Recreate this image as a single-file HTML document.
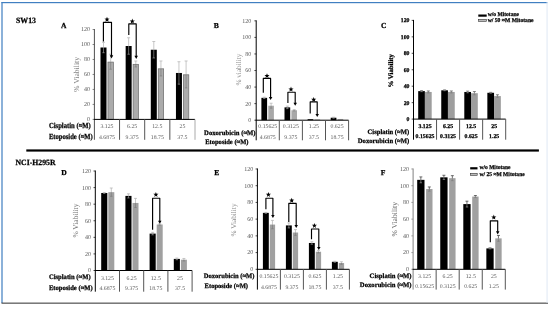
<!DOCTYPE html>
<html><head><meta charset="utf-8"><title>Figure</title>
<style>html,body{margin:0;padding:0;background:#fff;overflow:hidden}svg{display:block}text{font-family:"Liberation Serif",serif}text[font-weight=bold]{stroke:#000;stroke-width:.25px}</style>
</head><body>
<svg width="550" height="309" viewBox="0 0 550 309" text-rendering="geometricPrecision">
<defs><filter id="b" x="-5%" y="-5%" width="110%" height="110%"><feGaussianBlur stdDeviation="0.45"/></filter></defs><g filter="url(#b)">
<rect x="0" y="0" width="550" height="309" fill="#fff"/>
<rect x="100.5" y="47.5" width="6" height="71.9" fill="#000"/>
<rect x="107.95" y="62.08" width="5.4" height="57.32" fill="#ababab" stroke="#6a6a6a" stroke-width="0.7"/>
<path d="M103.5 47.5 V42.25 M102 42.25 H105" fill="none" stroke="#b0b0b0" stroke-width="0.7"/>
<path d="M103.5 47.5 V52.74 M102.3 52.74 H104.7" fill="none" stroke="#aaa" stroke-width="0.6"/>
<path d="M110.65 61.73 V54.24 M109.15 54.24 H112.15" fill="none" stroke="#b0b0b0" stroke-width="0.7"/>
<path d="M110.65 61.73 V69.22 M109.45 69.22 H111.85" fill="none" stroke="#777" stroke-width="0.6"/>
<rect x="125.65" y="46" width="6" height="73.4" fill="#000"/>
<rect x="133.1" y="64.32" width="5.4" height="55.08" fill="#ababab" stroke="#6a6a6a" stroke-width="0.7"/>
<path d="M128.65 46 V37.76 M127.15 37.76 H130.15" fill="none" stroke="#b0b0b0" stroke-width="0.7"/>
<path d="M128.65 46 V54.24 M127.45 54.24 H129.85" fill="none" stroke="#aaa" stroke-width="0.6"/>
<path d="M135.8 63.97 V60.98 M134.3 60.98 H137.3" fill="none" stroke="#b0b0b0" stroke-width="0.7"/>
<path d="M135.8 63.97 V66.97 M134.6 66.97 H137" fill="none" stroke="#777" stroke-width="0.6"/>
<rect x="150.8" y="49.74" width="6" height="69.66" fill="#000"/>
<rect x="158.25" y="68.82" width="5.4" height="50.58" fill="#ababab" stroke="#6a6a6a" stroke-width="0.7"/>
<path d="M153.8 49.74 V41.5 M152.3 41.5 H155.3" fill="none" stroke="#b0b0b0" stroke-width="0.7"/>
<path d="M153.8 49.74 V57.98 M152.6 57.98 H155" fill="none" stroke="#aaa" stroke-width="0.6"/>
<path d="M160.95 68.47 V60.98 M159.45 60.98 H162.45" fill="none" stroke="#b0b0b0" stroke-width="0.7"/>
<path d="M160.95 68.47 V75.96 M159.75 75.96 H162.15" fill="none" stroke="#777" stroke-width="0.6"/>
<rect x="175.95" y="72.96" width="6" height="46.44" fill="#000"/>
<rect x="183.4" y="74.81" width="5.4" height="44.59" fill="#ababab" stroke="#6a6a6a" stroke-width="0.7"/>
<path d="M178.95 72.96 V61.73 M177.45 61.73 H180.45" fill="none" stroke="#b0b0b0" stroke-width="0.7"/>
<path d="M178.95 72.96 V84.2 M177.75 84.2 H180.15" fill="none" stroke="#aaa" stroke-width="0.6"/>
<path d="M186.1 74.46 V60.98 M184.6 60.98 H187.6" fill="none" stroke="#b0b0b0" stroke-width="0.7"/>
<path d="M186.1 74.46 V87.94 M184.9 87.94 H187.3" fill="none" stroke="#777" stroke-width="0.6"/>
<path d="M94.4 29.02 V139.8" stroke="#505050" stroke-width="1" fill="none"/>
<path d="M92.6 119.4 H94.4" stroke="#505050" stroke-width="0.7" fill="none"/>
<text x="89.9" y="121.3" text-anchor="end" font-size="6" fill="#585858">0</text>
<path d="M92.6 104.42 H94.4" stroke="#505050" stroke-width="0.7" fill="none"/>
<text x="89.9" y="106.32" text-anchor="end" font-size="6" fill="#585858">20</text>
<path d="M92.6 89.44 H94.4" stroke="#505050" stroke-width="0.7" fill="none"/>
<text x="89.9" y="91.34" text-anchor="end" font-size="6" fill="#585858">40</text>
<path d="M92.6 74.46 H94.4" stroke="#505050" stroke-width="0.7" fill="none"/>
<text x="89.9" y="76.36" text-anchor="end" font-size="6" fill="#585858">60</text>
<path d="M92.6 59.48 H94.4" stroke="#505050" stroke-width="0.7" fill="none"/>
<text x="89.9" y="61.38" text-anchor="end" font-size="6" fill="#585858">80</text>
<path d="M92.6 44.5 H94.4" stroke="#505050" stroke-width="0.7" fill="none"/>
<text x="89.9" y="46.4" text-anchor="end" font-size="6" fill="#585858">100</text>
<path d="M92.6 29.52 H94.4" stroke="#505050" stroke-width="0.7" fill="none"/>
<text x="89.9" y="31.42" text-anchor="end" font-size="6" fill="#585858">120</text>
<path d="M93.9 119.4 H195" stroke="#000" stroke-width="1" fill="none"/>
<path d="M119.55 119.4 V139.8" stroke="#555" stroke-width="1" fill="none"/>
<path d="M144.7 119.4 V139.8" stroke="#555" stroke-width="1" fill="none"/>
<path d="M169.85 119.4 V139.8" stroke="#555" stroke-width="1" fill="none"/>
<path d="M195 119.4 V139.8" stroke="#aaa" stroke-width="1" fill="none"/>
<text x="106.98" y="128.1" text-anchor="middle" font-size="5.8" fill="#5c5c5c">3.125</text>
<text x="132.12" y="128.1" text-anchor="middle" font-size="5.8" fill="#5c5c5c">6.25</text>
<text x="157.28" y="128.1" text-anchor="middle" font-size="5.8" fill="#5c5c5c">12.5</text>
<text x="182.43" y="128.1" text-anchor="middle" font-size="5.8" fill="#5c5c5c">25</text>
<text x="106.98" y="138.5" text-anchor="middle" font-size="5.8" fill="#5c5c5c">4.6875</text>
<text x="132.12" y="138.5" text-anchor="middle" font-size="5.8" fill="#5c5c5c">9.375</text>
<text x="157.28" y="138.5" text-anchor="middle" font-size="5.8" fill="#5c5c5c">18.75</text>
<text x="182.43" y="138.5" text-anchor="middle" font-size="5.8" fill="#5c5c5c">37.5</text>
<text x="90.8" y="128.1" text-anchor="end" font-size="7.7" font-weight="bold" fill="#000" textLength="41.9" lengthAdjust="spacingAndGlyphs">Cisplatin (≈M)</text>
<text x="92.7" y="139.1" text-anchor="end" font-size="7.7" font-weight="bold" fill="#000" textLength="43.8" lengthAdjust="spacingAndGlyphs">Etoposide (≈M)</text>
<text transform="translate(78.7 74.5) rotate(-90)" text-anchor="middle" font-size="7.6" fill="#808080" textLength="35" lengthAdjust="spacingAndGlyphs">% Viability</text>
<text x="63.7" y="27.8" text-anchor="middle" font-size="7.6" font-weight="bold" fill="#000">A</text>
<path d="M103.4 41.5 V22.3 H111.5 V56.4" fill="none" stroke="#000" stroke-width="1.15" stroke-linejoin="round"/>
<polygon points="109.75,55.3 113.25,55.3 111.5,58.4" fill="#000"/>
<polygon points="107,16.8 107.67,18.58 109.57,18.67 108.08,19.85 108.59,21.68 107,20.63 105.41,21.68 105.92,19.85 104.43,18.67 106.33,18.58" fill="#000"/>
<path d="M128.8 35 V23.9 H136.2 V56.9" fill="none" stroke="#000" stroke-width="1.15" stroke-linejoin="round"/>
<polygon points="134.45,55.8 137.95,55.8 136.2,58.9" fill="#000"/>
<polygon points="132.3,18.6 132.97,20.38 134.87,20.47 133.38,21.65 133.89,23.48 132.3,22.43 130.71,23.48 131.22,21.65 129.73,20.47 131.63,20.38" fill="#000"/>
<rect x="261.4" y="97.84" width="5.7" height="22.36" fill="#000"/>
<rect x="268.3" y="105.71" width="5.6" height="14.49" fill="#a8a8a8"/>
<path d="M264.25 97.84 V97.18 M262.75 97.18 H265.75" fill="none" stroke="#b0b0b0" stroke-width="0.7"/>
<path d="M264.25 97.84 V98.51 M263.05 98.51 H265.45" fill="none" stroke="#aaa" stroke-width="0.6"/>
<path d="M271.1 105.71 V103.23 M269.6 103.23 H272.6" fill="none" stroke="#b0b0b0" stroke-width="0.7"/>
<path d="M271.1 105.71 V108.19 M269.9 108.19 H272.3" fill="none" stroke="#777" stroke-width="0.6"/>
<rect x="284.5" y="107.37" width="5.7" height="12.83" fill="#000"/>
<rect x="291.4" y="110.26" width="5.6" height="9.94" fill="#a8a8a8"/>
<path d="M287.35 107.37 V106.12 M285.85 106.12 H288.85" fill="none" stroke="#b0b0b0" stroke-width="0.7"/>
<path d="M287.35 107.37 V108.61 M286.15 108.61 H288.55" fill="none" stroke="#aaa" stroke-width="0.6"/>
<path d="M294.2 110.26 V109.6 M292.7 109.6 H295.7" fill="none" stroke="#b0b0b0" stroke-width="0.7"/>
<path d="M294.2 110.26 V110.93 M293 110.93 H295.4" fill="none" stroke="#777" stroke-width="0.6"/>
<rect x="307.6" y="119.21" width="5.7" height="0.99" fill="#000"/>
<rect x="314.5" y="119.37" width="5.6" height="0.83" fill="#a8a8a8"/>
<rect x="330.7" y="117.72" width="5.7" height="2.48" fill="#000"/>
<rect x="337.6" y="118.96" width="5.6" height="1.24" fill="#a8a8a8"/>
<path d="M333.55 117.72 V117.22 M332.05 117.22 H335.05" fill="none" stroke="#b0b0b0" stroke-width="0.7"/>
<path d="M333.55 117.72 V118.21 M332.35 118.21 H334.75" fill="none" stroke="#aaa" stroke-width="0.6"/>
<path d="M256.2 20.34 V140.3" stroke="#000" stroke-width="1" fill="none"/>
<path d="M254.4 120.2 H256.2" stroke="#000" stroke-width="0.7" fill="none"/>
<text x="251.3" y="122.1" text-anchor="end" font-size="6" fill="#585858">0</text>
<path d="M254.4 103.64 H256.2" stroke="#000" stroke-width="0.7" fill="none"/>
<text x="251.3" y="105.54" text-anchor="end" font-size="6" fill="#585858">20</text>
<path d="M254.4 87.08 H256.2" stroke="#000" stroke-width="0.7" fill="none"/>
<text x="251.3" y="88.98" text-anchor="end" font-size="6" fill="#585858">40</text>
<path d="M254.4 70.52 H256.2" stroke="#000" stroke-width="0.7" fill="none"/>
<text x="251.3" y="72.42" text-anchor="end" font-size="6" fill="#585858">60</text>
<path d="M254.4 53.96 H256.2" stroke="#000" stroke-width="0.7" fill="none"/>
<text x="251.3" y="55.86" text-anchor="end" font-size="6" fill="#585858">80</text>
<path d="M254.4 37.4 H256.2" stroke="#000" stroke-width="0.7" fill="none"/>
<text x="251.3" y="39.3" text-anchor="end" font-size="6" fill="#585858">100</text>
<path d="M254.4 20.84 H256.2" stroke="#000" stroke-width="0.7" fill="none"/>
<text x="251.3" y="22.74" text-anchor="end" font-size="6" fill="#585858">120</text>
<path d="M255.7 120.2 H348.6" stroke="#000" stroke-width="1" fill="none"/>
<path d="M279.3 120.2 V140.3" stroke="#555" stroke-width="1" fill="none"/>
<path d="M302.4 120.2 V140.3" stroke="#555" stroke-width="1" fill="none"/>
<path d="M325.5 120.2 V140.3" stroke="#555" stroke-width="1" fill="none"/>
<path d="M348.6 120.2 V140.3" stroke="#555" stroke-width="1" fill="none"/>
<text x="267.75" y="127.9" text-anchor="middle" font-size="5.8" fill="#5c5c5c">0.15625</text>
<text x="290.85" y="127.9" text-anchor="middle" font-size="5.8" fill="#5c5c5c">0.3125</text>
<text x="313.95" y="127.9" text-anchor="middle" font-size="5.8" fill="#5c5c5c">1.25</text>
<text x="337.05" y="127.9" text-anchor="middle" font-size="5.8" fill="#5c5c5c">0.625</text>
<text x="267.75" y="139.2" text-anchor="middle" font-size="5.8" fill="#5c5c5c">4.6875</text>
<text x="290.85" y="139.2" text-anchor="middle" font-size="5.8" fill="#5c5c5c">9.375</text>
<text x="313.95" y="139.2" text-anchor="middle" font-size="5.8" fill="#5c5c5c">37.5</text>
<text x="337.05" y="139.2" text-anchor="middle" font-size="5.8" fill="#5c5c5c">18.75</text>
<text x="255.6" y="135" text-anchor="end" font-size="6.8" font-weight="bold" fill="#000" textLength="51.5" lengthAdjust="spacingAndGlyphs">Doxorubicin (≈M)</text>
<text x="248.5" y="144.3" text-anchor="end" font-size="6.8" font-weight="bold" fill="#000" textLength="43.3" lengthAdjust="spacingAndGlyphs">Etoposide (≈M)</text>
<text transform="translate(240.6 69.6) rotate(-90)" text-anchor="middle" font-size="7.2" fill="#8c8c8c" textLength="32" lengthAdjust="spacingAndGlyphs">% viability</text>
<text x="216.3" y="27.7" text-anchor="middle" font-size="7.6" font-weight="bold" fill="#000">B</text>
<path d="M263.3 92.7 V78.4 H270.6 V98" fill="none" stroke="#000" stroke-width="1.15" stroke-linejoin="round"/>
<polygon points="268.85,96.9 272.35,96.9 270.6,100" fill="#000"/>
<polygon points="267,73.2 267.67,74.98 269.57,75.07 268.08,76.25 268.59,78.08 267,77.03 265.41,78.08 265.92,76.25 264.43,75.07 266.33,74.98" fill="#000"/>
<path d="M287.9 102.9 V92.2 H295.2 V103.8" fill="none" stroke="#000" stroke-width="1.15" stroke-linejoin="round"/>
<polygon points="293.45,102.7 296.95,102.7 295.2,105.8" fill="#000"/>
<polygon points="291,86.6 291.67,88.38 293.57,88.47 292.08,89.65 292.59,91.48 291,90.43 289.41,91.48 289.92,89.65 288.43,88.47 290.33,88.38" fill="#000"/>
<path d="M310.2 113.5 V101.9 H317.2 V115" fill="none" stroke="#000" stroke-width="1.15" stroke-linejoin="round"/>
<polygon points="315.45,113.9 318.95,113.9 317.2,117" fill="#000"/>
<polygon points="313.7,96.9 314.37,98.68 316.27,98.77 314.78,99.95 315.29,101.78 313.7,100.73 312.11,101.78 312.62,99.95 311.13,98.77 313.03,98.68" fill="#000"/>
<rect x="418.2" y="91.13" width="6.7" height="27.97" fill="#000"/>
<rect x="424.9" y="91.96" width="6.8" height="27.14" fill="#9e9e9e"/>
<path d="M421.55 91.13 V90.64 M420.05 90.64 H423.05" fill="none" stroke="#555" stroke-width="0.7"/>
<path d="M421.55 91.13 V91.63 M420.35 91.63 H422.75" fill="none" stroke="#aaa" stroke-width="0.6"/>
<path d="M428.3 91.96 V90.97 M426.8 90.97 H429.8" fill="none" stroke="#555" stroke-width="0.7"/>
<path d="M428.3 91.96 V92.94 M427.1 92.94 H429.5" fill="none" stroke="#777" stroke-width="0.6"/>
<rect x="441.25" y="90.31" width="6.7" height="28.79" fill="#000"/>
<rect x="447.95" y="91.96" width="6.8" height="27.14" fill="#9e9e9e"/>
<path d="M444.6 90.31 V89.9 M443.1 89.9 H446.1" fill="none" stroke="#555" stroke-width="0.7"/>
<path d="M444.6 90.31 V90.72 M443.4 90.72 H445.8" fill="none" stroke="#aaa" stroke-width="0.6"/>
<path d="M451.35 91.96 V90.97 M449.85 90.97 H452.85" fill="none" stroke="#555" stroke-width="0.7"/>
<path d="M451.35 91.96 V92.94 M450.15 92.94 H452.55" fill="none" stroke="#777" stroke-width="0.6"/>
<rect x="464.3" y="91.96" width="6.7" height="27.14" fill="#000"/>
<rect x="471" y="93.19" width="6.8" height="25.91" fill="#9e9e9e"/>
<path d="M467.65 91.96 V91.13 M466.15 91.13 H469.15" fill="none" stroke="#555" stroke-width="0.7"/>
<path d="M467.65 91.96 V92.78 M466.45 92.78 H468.85" fill="none" stroke="#aaa" stroke-width="0.6"/>
<path d="M474.4 93.19 V91.55 M472.9 91.55 H475.9" fill="none" stroke="#555" stroke-width="0.7"/>
<path d="M474.4 93.19 V94.84 M473.2 94.84 H475.6" fill="none" stroke="#777" stroke-width="0.6"/>
<rect x="487.35" y="92.78" width="6.7" height="26.32" fill="#000"/>
<rect x="494.05" y="96.07" width="6.8" height="23.03" fill="#9e9e9e"/>
<path d="M490.7 92.78 V92.37 M489.2 92.37 H492.2" fill="none" stroke="#555" stroke-width="0.7"/>
<path d="M490.7 92.78 V93.19 M489.5 93.19 H491.9" fill="none" stroke="#aaa" stroke-width="0.6"/>
<path d="M497.45 96.07 V94.75 M495.95 94.75 H498.95" fill="none" stroke="#555" stroke-width="0.7"/>
<path d="M497.45 96.07 V97.39 M496.25 97.39 H498.65" fill="none" stroke="#777" stroke-width="0.6"/>
<path d="M413.5 19.9 V139.7" stroke="#000" stroke-width="1" fill="none"/>
<path d="M411.7 119.1 H413.5" stroke="#000" stroke-width="0.7" fill="none"/>
<text x="409.5" y="121" text-anchor="end" font-size="5.8" fill="#000" font-weight="bold">0</text>
<path d="M411.7 102.65 H413.5" stroke="#000" stroke-width="0.7" fill="none"/>
<text x="409.5" y="104.55" text-anchor="end" font-size="5.8" fill="#000" font-weight="bold">20</text>
<path d="M411.7 86.2 H413.5" stroke="#000" stroke-width="0.7" fill="none"/>
<text x="409.5" y="88.1" text-anchor="end" font-size="5.8" fill="#000" font-weight="bold">40</text>
<path d="M411.7 69.75 H413.5" stroke="#000" stroke-width="0.7" fill="none"/>
<text x="409.5" y="71.65" text-anchor="end" font-size="5.8" fill="#000" font-weight="bold">60</text>
<path d="M411.7 53.3 H413.5" stroke="#000" stroke-width="0.7" fill="none"/>
<text x="409.5" y="55.2" text-anchor="end" font-size="5.8" fill="#000" font-weight="bold">80</text>
<path d="M411.7 36.85 H413.5" stroke="#000" stroke-width="0.7" fill="none"/>
<text x="409.5" y="38.75" text-anchor="end" font-size="5.8" fill="#000" font-weight="bold">100</text>
<path d="M411.7 20.4 H413.5" stroke="#000" stroke-width="0.7" fill="none"/>
<text x="409.5" y="22.3" text-anchor="end" font-size="5.8" fill="#000" font-weight="bold">120</text>
<path d="M413 119.1 H505.7" stroke="#000" stroke-width="1" fill="none"/>
<path d="M436.55 119.1 V139.7" stroke="#555" stroke-width="1" fill="none"/>
<path d="M459.6 119.1 V139.7" stroke="#555" stroke-width="1" fill="none"/>
<path d="M482.65 119.1 V139.7" stroke="#555" stroke-width="1" fill="none"/>
<path d="M505.7 119.1 V139.7" stroke="#555" stroke-width="1" fill="none"/>
<text x="425.02" y="127.7" text-anchor="middle" font-size="5.8" fill="#000" font-weight="bold">3.125</text>
<text x="448.07" y="127.7" text-anchor="middle" font-size="5.8" fill="#000" font-weight="bold">6.25</text>
<text x="471.12" y="127.7" text-anchor="middle" font-size="5.8" fill="#000" font-weight="bold">12.5</text>
<text x="494.18" y="127.7" text-anchor="middle" font-size="5.8" fill="#000" font-weight="bold">25</text>
<text x="425.02" y="138.2" text-anchor="middle" font-size="5.8" fill="#000" font-weight="bold">0.15625</text>
<text x="448.07" y="138.2" text-anchor="middle" font-size="5.8" fill="#000" font-weight="bold">0.3125</text>
<text x="471.12" y="138.2" text-anchor="middle" font-size="5.8" fill="#000" font-weight="bold">0.625</text>
<text x="494.18" y="138.2" text-anchor="middle" font-size="5.8" fill="#000" font-weight="bold">1.25</text>
<text x="409.1" y="133.7" text-anchor="end" font-size="6.8" font-weight="bold" fill="#000" textLength="41.5" lengthAdjust="spacingAndGlyphs">Cisplatin (≈M)</text>
<text x="409.1" y="142.8" text-anchor="end" font-size="6.8" font-weight="bold" fill="#000" textLength="51.3" lengthAdjust="spacingAndGlyphs">Doxorubicin (≈M)</text>
<text transform="translate(393.3 70.8) rotate(-90)" text-anchor="middle" font-size="6.8" fill="#000" font-weight="bold" textLength="33.6" lengthAdjust="spacingAndGlyphs">% Viability</text>
<text x="383.7" y="27.9" text-anchor="middle" font-size="7.6" font-weight="bold" fill="#000">C</text>
<rect x="101.2" y="192.99" width="6.1" height="77.51" fill="#000"/>
<rect x="108.3" y="192.16" width="6" height="78.34" fill="#a0a0a0"/>
<path d="M104.25 192.99 V192.49 M102.75 192.49 H105.75" fill="none" stroke="#b0b0b0" stroke-width="0.7"/>
<path d="M104.25 192.99 V193.49 M103.05 193.49 H105.45" fill="none" stroke="#aaa" stroke-width="0.6"/>
<path d="M111.3 192.16 V188.01 M109.8 188.01 H112.8" fill="none" stroke="#b0b0b0" stroke-width="0.7"/>
<path d="M111.3 192.16 V196.3 M110.1 196.3 H112.5" fill="none" stroke="#777" stroke-width="0.6"/>
<rect x="125.4" y="195.89" width="6.1" height="74.61" fill="#000"/>
<rect x="132.5" y="202.94" width="6" height="67.56" fill="#a0a0a0"/>
<path d="M128.45 195.89 V193.82 M126.95 193.82 H129.95" fill="none" stroke="#b0b0b0" stroke-width="0.7"/>
<path d="M128.45 195.89 V197.96 M127.25 197.96 H129.65" fill="none" stroke="#aaa" stroke-width="0.6"/>
<path d="M135.5 202.94 V198.38 M134 198.38 H137" fill="none" stroke="#b0b0b0" stroke-width="0.7"/>
<path d="M135.5 202.94 V207.5 M134.3 207.5 H136.7" fill="none" stroke="#777" stroke-width="0.6"/>
<rect x="149.6" y="233.61" width="6.1" height="36.89" fill="#000"/>
<rect x="156.7" y="224.49" width="6" height="46.01" fill="#a0a0a0"/>
<path d="M152.65 233.61 V232.37 M151.15 232.37 H154.15" fill="none" stroke="#b0b0b0" stroke-width="0.7"/>
<path d="M152.65 233.61 V234.85 M151.45 234.85 H153.85" fill="none" stroke="#aaa" stroke-width="0.6"/>
<path d="M159.7 224.49 V223.83 M158.2 223.83 H161.2" fill="none" stroke="#b0b0b0" stroke-width="0.7"/>
<path d="M159.7 224.49 V225.15 M158.5 225.15 H160.9" fill="none" stroke="#777" stroke-width="0.6"/>
<rect x="173.8" y="258.89" width="6.1" height="11.61" fill="#000"/>
<rect x="180.9" y="259.72" width="6" height="10.78" fill="#a0a0a0"/>
<path d="M176.85 258.89 V258.06 M175.35 258.06 H178.35" fill="none" stroke="#b0b0b0" stroke-width="0.7"/>
<path d="M176.85 258.89 V259.72 M175.65 259.72 H178.05" fill="none" stroke="#aaa" stroke-width="0.6"/>
<path d="M183.9 259.72 V258.48 M182.4 258.48 H185.4" fill="none" stroke="#b0b0b0" stroke-width="0.7"/>
<path d="M183.9 259.72 V260.97 M182.7 260.97 H185.1" fill="none" stroke="#777" stroke-width="0.6"/>
<path d="M95.3 170.52 V291.7" stroke="#000" stroke-width="1" fill="none"/>
<path d="M93.5 270.5 H95.3" stroke="#000" stroke-width="0.7" fill="none"/>
<text x="91" y="272.4" text-anchor="end" font-size="6" fill="#585858">0</text>
<path d="M93.5 253.92 H95.3" stroke="#000" stroke-width="0.7" fill="none"/>
<text x="91" y="255.82" text-anchor="end" font-size="6" fill="#585858">20</text>
<path d="M93.5 237.34 H95.3" stroke="#000" stroke-width="0.7" fill="none"/>
<text x="91" y="239.24" text-anchor="end" font-size="6" fill="#585858">40</text>
<path d="M93.5 220.76 H95.3" stroke="#000" stroke-width="0.7" fill="none"/>
<text x="91" y="222.66" text-anchor="end" font-size="6" fill="#585858">60</text>
<path d="M93.5 204.18 H95.3" stroke="#000" stroke-width="0.7" fill="none"/>
<text x="91" y="206.08" text-anchor="end" font-size="6" fill="#585858">80</text>
<path d="M93.5 187.6 H95.3" stroke="#000" stroke-width="0.7" fill="none"/>
<text x="91" y="189.5" text-anchor="end" font-size="6" fill="#585858">100</text>
<path d="M93.5 171.02 H95.3" stroke="#000" stroke-width="0.7" fill="none"/>
<text x="91" y="172.92" text-anchor="end" font-size="6" fill="#585858">120</text>
<path d="M94.8 270.5 H192.1" stroke="#000" stroke-width="1" fill="none"/>
<path d="M119.5 270.5 V291.7" stroke="#555" stroke-width="1" fill="none"/>
<path d="M143.7 270.5 V291.7" stroke="#555" stroke-width="1" fill="none"/>
<path d="M167.9 270.5 V291.7" stroke="#555" stroke-width="1" fill="none"/>
<path d="M192.1 270.5 V291.7" stroke="#555" stroke-width="1" fill="none"/>
<text x="107.4" y="279.9" text-anchor="middle" font-size="5.8" fill="#5c5c5c">3.125</text>
<text x="131.6" y="279.9" text-anchor="middle" font-size="5.8" fill="#5c5c5c">6.25</text>
<text x="155.8" y="279.9" text-anchor="middle" font-size="5.8" fill="#5c5c5c">12.5</text>
<text x="180" y="279.9" text-anchor="middle" font-size="5.8" fill="#5c5c5c">25</text>
<text x="107.4" y="290" text-anchor="middle" font-size="5.8" fill="#5c5c5c">4.6875</text>
<text x="131.6" y="290" text-anchor="middle" font-size="5.8" fill="#5c5c5c">9.375</text>
<text x="155.8" y="290" text-anchor="middle" font-size="5.8" fill="#5c5c5c">18.75</text>
<text x="180" y="290" text-anchor="middle" font-size="5.8" fill="#5c5c5c">37.5</text>
<text x="90.6" y="278.9" text-anchor="end" font-size="6.9" font-weight="bold" fill="#000" textLength="41.7" lengthAdjust="spacingAndGlyphs">Cisplatin (≈M)</text>
<text x="92.7" y="289.5" text-anchor="end" font-size="6.9" font-weight="bold" fill="#000" textLength="43.8" lengthAdjust="spacingAndGlyphs">Etoposide (≈M)</text>
<text transform="translate(78 220.6) rotate(-90)" text-anchor="middle" font-size="7.4" fill="#6c6c6c" textLength="34" lengthAdjust="spacingAndGlyphs">% Viability</text>
<text x="64" y="175" text-anchor="middle" font-size="7.6" font-weight="bold" fill="#000">D</text>
<path d="M152.6 229.7 V198.2 H159.8 V221.8" fill="none" stroke="#000" stroke-width="1.15" stroke-linejoin="round"/>
<polygon points="158.05,220.7 161.55,220.7 159.8,223.8" fill="#000"/>
<polygon points="155.9,192 156.57,193.78 158.47,193.87 156.98,195.05 157.49,196.88 155.9,195.83 154.31,196.88 154.82,195.05 153.33,193.87 155.23,193.78" fill="#000"/>
<rect x="262.9" y="212.87" width="5.9" height="56.43" fill="#000"/>
<rect x="269.8" y="224.57" width="5.3" height="44.73" fill="#a0a0a0"/>
<path d="M265.85 212.87 V212.37 M264.35 212.37 H267.35" fill="none" stroke="#b0b0b0" stroke-width="0.7"/>
<path d="M265.85 212.87 V213.37 M264.65 213.37 H267.05" fill="none" stroke="#aaa" stroke-width="0.6"/>
<path d="M272.45 224.57 V220.39 M270.95 220.39 H273.95" fill="none" stroke="#b0b0b0" stroke-width="0.7"/>
<path d="M272.45 224.57 V228.75 M271.25 228.75 H273.65" fill="none" stroke="#777" stroke-width="0.6"/>
<rect x="285.9" y="225.41" width="5.9" height="43.89" fill="#000"/>
<rect x="292.8" y="232.52" width="5.3" height="36.78" fill="#a0a0a0"/>
<path d="M288.85 225.41 V222.9 M287.35 222.9 H290.35" fill="none" stroke="#b0b0b0" stroke-width="0.7"/>
<path d="M288.85 225.41 V227.92 M287.65 227.92 H290.05" fill="none" stroke="#aaa" stroke-width="0.6"/>
<path d="M295.45 232.52 V229.59 M293.95 229.59 H296.95" fill="none" stroke="#b0b0b0" stroke-width="0.7"/>
<path d="M295.45 232.52 V235.44 M294.25 235.44 H296.65" fill="none" stroke="#777" stroke-width="0.6"/>
<rect x="308.9" y="242.97" width="5.9" height="26.33" fill="#000"/>
<rect x="315.8" y="251.74" width="5.3" height="17.56" fill="#a0a0a0"/>
<path d="M311.85 242.97 V241.71 M310.35 241.71 H313.35" fill="none" stroke="#b0b0b0" stroke-width="0.7"/>
<path d="M311.85 242.97 V244.22 M310.65 244.22 H313.05" fill="none" stroke="#aaa" stroke-width="0.6"/>
<path d="M318.45 251.74 V250.49 M316.95 250.49 H319.95" fill="none" stroke="#b0b0b0" stroke-width="0.7"/>
<path d="M318.45 251.74 V253 M317.25 253 H319.65" fill="none" stroke="#777" stroke-width="0.6"/>
<rect x="331.9" y="261.78" width="5.9" height="7.52" fill="#000"/>
<rect x="338.8" y="263.03" width="5.3" height="6.27" fill="#a0a0a0"/>
<path d="M334.85 261.78 V261.27 M333.35 261.27 H336.35" fill="none" stroke="#b0b0b0" stroke-width="0.7"/>
<path d="M334.85 261.78 V262.28 M333.65 262.28 H336.05" fill="none" stroke="#aaa" stroke-width="0.6"/>
<path d="M341.45 263.03 V261.78 M339.95 261.78 H342.95" fill="none" stroke="#b0b0b0" stroke-width="0.7"/>
<path d="M341.45 263.03 V264.28 M340.25 264.28 H342.65" fill="none" stroke="#777" stroke-width="0.6"/>
<path d="M257.4 168.48 V289.6" stroke="#000" stroke-width="1" fill="none"/>
<path d="M255.6 269.3 H257.4" stroke="#000" stroke-width="0.7" fill="none"/>
<text x="253.2" y="271.2" text-anchor="end" font-size="6" fill="#585858">0</text>
<path d="M255.6 252.58 H257.4" stroke="#000" stroke-width="0.7" fill="none"/>
<text x="253.2" y="254.48" text-anchor="end" font-size="6" fill="#585858">20</text>
<path d="M255.6 235.86 H257.4" stroke="#000" stroke-width="0.7" fill="none"/>
<text x="253.2" y="237.76" text-anchor="end" font-size="6" fill="#585858">40</text>
<path d="M255.6 219.14 H257.4" stroke="#000" stroke-width="0.7" fill="none"/>
<text x="253.2" y="221.04" text-anchor="end" font-size="6" fill="#585858">60</text>
<path d="M255.6 202.42 H257.4" stroke="#000" stroke-width="0.7" fill="none"/>
<text x="253.2" y="204.32" text-anchor="end" font-size="6" fill="#585858">80</text>
<path d="M255.6 185.7 H257.4" stroke="#000" stroke-width="0.7" fill="none"/>
<text x="253.2" y="187.6" text-anchor="end" font-size="6" fill="#585858">100</text>
<path d="M255.6 168.98 H257.4" stroke="#000" stroke-width="0.7" fill="none"/>
<text x="253.2" y="170.88" text-anchor="end" font-size="6" fill="#585858">120</text>
<path d="M256.9 269.3 H349.4" stroke="#000" stroke-width="1" fill="none"/>
<path d="M280.4 269.3 V289.6" stroke="#555" stroke-width="1" fill="none"/>
<path d="M303.4 269.3 V289.6" stroke="#555" stroke-width="1" fill="none"/>
<path d="M326.4 269.3 V289.6" stroke="#555" stroke-width="1" fill="none"/>
<path d="M349.4 269.3 V289.6" stroke="#555" stroke-width="1" fill="none"/>
<text x="268.9" y="277.9" text-anchor="middle" font-size="5.8" fill="#5c5c5c">0.15625</text>
<text x="291.9" y="277.9" text-anchor="middle" font-size="5.8" fill="#5c5c5c">0.3125</text>
<text x="314.9" y="277.9" text-anchor="middle" font-size="5.8" fill="#5c5c5c">0.625</text>
<text x="337.9" y="277.9" text-anchor="middle" font-size="5.8" fill="#5c5c5c">1.25</text>
<text x="268.9" y="288.5" text-anchor="middle" font-size="5.8" fill="#5c5c5c">4.6875</text>
<text x="291.9" y="288.5" text-anchor="middle" font-size="5.8" fill="#5c5c5c">9.375</text>
<text x="314.9" y="288.5" text-anchor="middle" font-size="5.8" fill="#5c5c5c">18.75</text>
<text x="337.9" y="288.5" text-anchor="middle" font-size="5.8" fill="#5c5c5c">37.5</text>
<text x="254.5" y="277.7" text-anchor="end" font-size="6.8" font-weight="bold" fill="#000" textLength="50.7" lengthAdjust="spacingAndGlyphs">Doxorubicin (≈M)</text>
<text x="248" y="287.5" text-anchor="end" font-size="6.8" font-weight="bold" fill="#000" textLength="43.4" lengthAdjust="spacingAndGlyphs">Etoposide (≈M)</text>
<text transform="translate(236.2 220) rotate(-90)" text-anchor="middle" font-size="7.2" fill="#888" textLength="33" lengthAdjust="spacingAndGlyphs">% Viability</text>
<text x="216.7" y="174.9" text-anchor="middle" font-size="7.6" font-weight="bold" fill="#000">E</text>
<path d="M265.9 209.3 V198.2 H272.9 V216" fill="none" stroke="#000" stroke-width="1.15" stroke-linejoin="round"/>
<polygon points="271.15,214.9 274.65,214.9 272.9,218" fill="#000"/>
<polygon points="268.4,192 269.07,193.78 270.97,193.87 269.48,195.05 269.99,196.88 268.4,195.83 266.81,196.88 267.32,195.05 265.83,193.87 267.73,193.78" fill="#000"/>
<path d="M288.8 221.9 V203.4 H296.2 V226.1" fill="none" stroke="#000" stroke-width="1.15" stroke-linejoin="round"/>
<polygon points="294.45,225 297.95,225 296.2,228.1" fill="#000"/>
<polygon points="291.7,197.8 292.37,199.58 294.27,199.67 292.78,200.85 293.29,202.68 291.7,201.63 290.11,202.68 290.62,200.85 289.13,199.67 291.03,199.58" fill="#000"/>
<path d="M311.5 239.3 V229 H318.8 V248" fill="none" stroke="#000" stroke-width="1.15" stroke-linejoin="round"/>
<polygon points="317.05,246.9 320.55,246.9 318.8,250" fill="#000"/>
<polygon points="314.4,223 315.07,224.78 316.97,224.87 315.48,226.05 315.99,227.88 314.4,226.83 312.81,227.88 313.32,226.05 311.83,224.87 313.73,224.78" fill="#000"/>
<rect x="417.2" y="179.85" width="7.3" height="89.45" fill="#000"/>
<rect x="426.1" y="189.04" width="6.4" height="80.26" fill="#a0a0a0"/>
<path d="M420.85 179.85 V176.92 M419.35 176.92 H422.35" fill="none" stroke="#333" stroke-width="0.7"/>
<path d="M420.85 179.85 V182.77 M419.65 182.77 H422.05" fill="none" stroke="#aaa" stroke-width="0.6"/>
<path d="M429.3 189.04 V186.95 M427.8 186.95 H430.8" fill="none" stroke="#333" stroke-width="0.7"/>
<path d="M429.3 189.04 V191.13 M428.1 191.13 H430.5" fill="none" stroke="#777" stroke-width="0.6"/>
<rect x="440.25" y="177.34" width="7.3" height="91.96" fill="#000"/>
<rect x="449.15" y="178.18" width="6.4" height="91.12" fill="#a0a0a0"/>
<path d="M443.9 177.34 V175.25 M442.4 175.25 H445.4" fill="none" stroke="#333" stroke-width="0.7"/>
<path d="M443.9 177.34 V179.43 M442.7 179.43 H445.1" fill="none" stroke="#aaa" stroke-width="0.6"/>
<path d="M452.35 178.18 V175.67 M450.85 175.67 H453.85" fill="none" stroke="#333" stroke-width="0.7"/>
<path d="M452.35 178.18 V180.68 M451.15 180.68 H453.55" fill="none" stroke="#777" stroke-width="0.6"/>
<rect x="463.3" y="204.09" width="7.3" height="65.21" fill="#000"/>
<rect x="472.2" y="196.57" width="6.4" height="72.73" fill="#a0a0a0"/>
<path d="M466.95 204.09 V201.17 M465.45 201.17 H468.45" fill="none" stroke="#333" stroke-width="0.7"/>
<path d="M466.95 204.09 V207.02 M465.75 207.02 H468.15" fill="none" stroke="#aaa" stroke-width="0.6"/>
<path d="M475.4 196.57 V195.56 M473.9 195.56 H476.9" fill="none" stroke="#333" stroke-width="0.7"/>
<path d="M475.4 196.57 V197.57 M474.2 197.57 H476.6" fill="none" stroke="#777" stroke-width="0.6"/>
<rect x="486.35" y="248.4" width="7.3" height="20.9" fill="#000"/>
<rect x="495.25" y="238.37" width="6.4" height="30.93" fill="#a0a0a0"/>
<path d="M490 248.4 V247.9 M488.5 247.9 H491.5" fill="none" stroke="#333" stroke-width="0.7"/>
<path d="M490 248.4 V248.9 M488.8 248.9 H491.2" fill="none" stroke="#aaa" stroke-width="0.6"/>
<path d="M498.45 238.37 V235.44 M496.95 235.44 H499.95" fill="none" stroke="#333" stroke-width="0.7"/>
<path d="M498.45 238.37 V241.29 M497.25 241.29 H499.65" fill="none" stroke="#777" stroke-width="0.6"/>
<path d="M413.1 168.48 V289.6" stroke="#808080" stroke-width="1" fill="none"/>
<path d="M411.3 269.3 H413.1" stroke="#808080" stroke-width="0.7" fill="none"/>
<text x="409.1" y="271.2" text-anchor="end" font-size="6" fill="#585858">0</text>
<path d="M411.3 252.58 H413.1" stroke="#808080" stroke-width="0.7" fill="none"/>
<text x="409.1" y="254.48" text-anchor="end" font-size="6" fill="#585858">20</text>
<path d="M411.3 235.86 H413.1" stroke="#808080" stroke-width="0.7" fill="none"/>
<text x="409.1" y="237.76" text-anchor="end" font-size="6" fill="#585858">40</text>
<path d="M411.3 219.14 H413.1" stroke="#808080" stroke-width="0.7" fill="none"/>
<text x="409.1" y="221.04" text-anchor="end" font-size="6" fill="#585858">60</text>
<path d="M411.3 202.42 H413.1" stroke="#808080" stroke-width="0.7" fill="none"/>
<text x="409.1" y="204.32" text-anchor="end" font-size="6" fill="#585858">80</text>
<path d="M411.3 185.7 H413.1" stroke="#808080" stroke-width="0.7" fill="none"/>
<text x="409.1" y="187.6" text-anchor="end" font-size="6" fill="#585858">100</text>
<path d="M411.3 168.98 H413.1" stroke="#808080" stroke-width="0.7" fill="none"/>
<text x="409.1" y="170.88" text-anchor="end" font-size="6" fill="#585858">120</text>
<path d="M412.6 269.3 H505.3" stroke="#000" stroke-width="1" fill="none"/>
<path d="M436.15 269.3 V289.6" stroke="#555" stroke-width="1" fill="none"/>
<path d="M459.2 269.3 V289.6" stroke="#555" stroke-width="1" fill="none"/>
<path d="M482.25 269.3 V289.6" stroke="#555" stroke-width="1" fill="none"/>
<path d="M505.3 269.3 V289.6" stroke="#555" stroke-width="1" fill="none"/>
<text x="424.62" y="277.8" text-anchor="middle" font-size="5.8" fill="#5c5c5c">3.125</text>
<text x="447.68" y="277.8" text-anchor="middle" font-size="5.8" fill="#5c5c5c">6.25</text>
<text x="470.73" y="277.8" text-anchor="middle" font-size="5.8" fill="#5c5c5c">12.5</text>
<text x="493.78" y="277.8" text-anchor="middle" font-size="5.8" fill="#5c5c5c">25</text>
<text x="424.62" y="288.1" text-anchor="middle" font-size="5.8" fill="#5c5c5c">0.15625</text>
<text x="447.68" y="288.1" text-anchor="middle" font-size="5.8" fill="#5c5c5c">0.3125</text>
<text x="470.73" y="288.1" text-anchor="middle" font-size="5.8" fill="#5c5c5c">0.625</text>
<text x="493.78" y="288.1" text-anchor="middle" font-size="5.8" fill="#5c5c5c">1.25</text>
<text x="411.6" y="277.7" text-anchor="end" font-size="6.8" font-weight="bold" fill="#000" textLength="42" lengthAdjust="spacingAndGlyphs">Cisplatin (≈M)</text>
<text x="411.6" y="286.8" text-anchor="end" font-size="6.8" font-weight="bold" fill="#000" textLength="51.8" lengthAdjust="spacingAndGlyphs">Doxorubicin (≈M)</text>
<text transform="translate(396.7 219.3) rotate(-90)" text-anchor="middle" font-size="7.5" fill="#606060" textLength="34.6" lengthAdjust="spacingAndGlyphs">% Viability</text>
<text x="383" y="174.5" text-anchor="middle" font-size="7.6" font-weight="bold" fill="#000">F</text>
<path d="M490.3 242.2 V220.8 H497.7 V232.4" fill="none" stroke="#000" stroke-width="1.15" stroke-linejoin="round"/>
<polygon points="495.95,231.3 499.45,231.3 497.7,234.4" fill="#000"/>
<polygon points="493.8,214.6 494.47,216.38 496.37,216.47 494.88,217.65 495.39,219.48 493.8,218.43 492.21,219.48 492.72,217.65 491.23,216.47 493.13,216.38" fill="#000"/>
<text x="16" y="23.1" font-size="8" font-weight="bold" fill="#000" textLength="20" lengthAdjust="spacingAndGlyphs">SW13</text>
<text x="15.5" y="165.4" font-size="8" font-weight="bold" fill="#000" textLength="40" lengthAdjust="spacingAndGlyphs">NCI-H295R</text>
<rect x="26.3" y="149.4" width="512.6" height="2.2" fill="#000"/>
<rect x="478.3" y="14.5" width="8.4" height="2.2" fill="#000"/>
<rect x="478.6" y="19.4" width="7.8" height="1.9" fill="#bbb" stroke="#333" stroke-width="0.6"/>
<text x="487.7" y="16" font-size="5.9" font-weight="bold" fill="#000" textLength="31.3" lengthAdjust="spacingAndGlyphs">w/o Mitotane</text>
<text x="487.7" y="22.4" font-size="5.9" font-weight="bold" fill="#000" textLength="45.9" lengthAdjust="spacingAndGlyphs">w/ 50 ≈M Mitotane</text>
<rect x="470.2" y="167.2" width="7.3" height="2.2" fill="#000"/>
<rect x="470.5" y="173.4" width="6.7" height="1.9" fill="#bbb" stroke="#333" stroke-width="0.6"/>
<text x="479.6" y="168.7" font-size="5.9" font-weight="bold" fill="#000" textLength="30.9" lengthAdjust="spacingAndGlyphs">w/o Mitotane</text>
<text x="479.6" y="176.4" font-size="5.9" font-weight="bold" fill="#000" textLength="45.1" lengthAdjust="spacingAndGlyphs">w/ 25 ≈M Mitotane</text>
<rect x="1.5" y="2" width="546" height="1.2" fill="#3f7fc1"/>
<rect x="1.4" y="2" width="1.2" height="301" fill="#3f7fc1"/>
<rect x="1.5" y="302.6" width="546.5" height="1.1" fill="#404040"/>
<rect x="546.6" y="2" width="0.9" height="301" fill="#dbe6f3"/>
</g>
</svg>
</body></html>
